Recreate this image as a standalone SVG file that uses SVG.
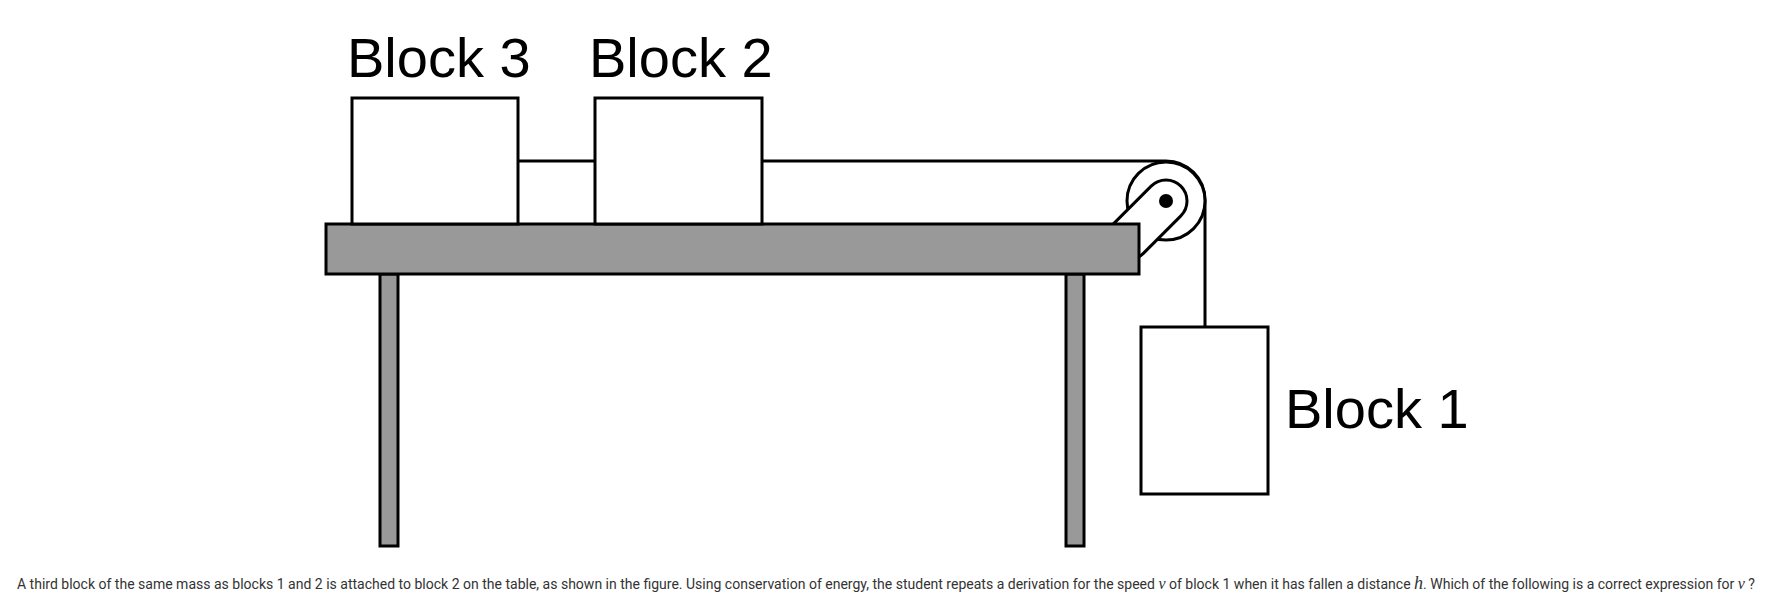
<svg xmlns="http://www.w3.org/2000/svg" width="1767" height="606" viewBox="0 0 1767 606">
<style>
.ln{fill:none;stroke:#000;stroke-width:3}
.blk{fill:#fff;stroke:#000;stroke-width:3}
.gray{fill:#999;stroke:#000;stroke-width:3}
.lbl{font-family:"Liberation Sans",Arial,sans-serif;font-size:56px;fill:#000}
.cap{font-family:Roboto,"Liberation Sans",sans-serif;font-size:14px;fill:#333}
</style>
<rect width="1767" height="606" fill="#fff"/>
<g id="connectors">
<line class="ln" x1="518" y1="161" x2="595" y2="161"/>
<path class="ln" d="M762 161 H1166 A39 39 0 0 1 1205 200 V327"/>
</g>
<g id="legs">
<rect class="gray" x="380" y="274" width="18" height="272"/>
<rect class="gray" x="1066" y="274" width="18" height="272"/>
</g>
<g id="pulley">
<circle class="blk" cx="1166" cy="201" r="39"/>
<g transform="translate(1166,201) rotate(135)"><rect class="blk" x="-21" y="-21" width="95" height="42" rx="21"/></g>
</g>
<g id="table"><rect class="gray" x="326" y="224" width="813" height="50"/></g>
<circle cx="1166" cy="201" r="7" fill="#000"/>
<g id="block3"><rect class="blk" x="352" y="98" width="166" height="126"/><text class="lbl" x="347" y="77">Block 3</text></g>
<g id="block2"><rect class="blk" x="595" y="98" width="167" height="126"/><text class="lbl" x="589" y="77">Block 2</text></g>
<g id="block1"><rect class="blk" x="1141" y="327" width="127" height="167"/><text class="lbl" x="1285" y="428">Block 1</text></g>
<text class="cap" x="17" y="589" textLength="1738" lengthAdjust="spacingAndGlyphs">A third block of the same mass as blocks 1 and 2 is attached to block 2 on the table, as shown in the figure. Using conservation of energy, the student repeats a derivation for the speed <tspan font-family="'Liberation Serif',serif" font-style="italic" font-size="16">v</tspan> of block 1 when it has fallen a distance <tspan font-family="'Liberation Serif',serif" font-style="italic" font-size="18">h</tspan>. Which of the following is a correct expression for <tspan font-family="'Liberation Serif',serif" font-style="italic" font-size="16">v</tspan> ?</text>
</svg>
